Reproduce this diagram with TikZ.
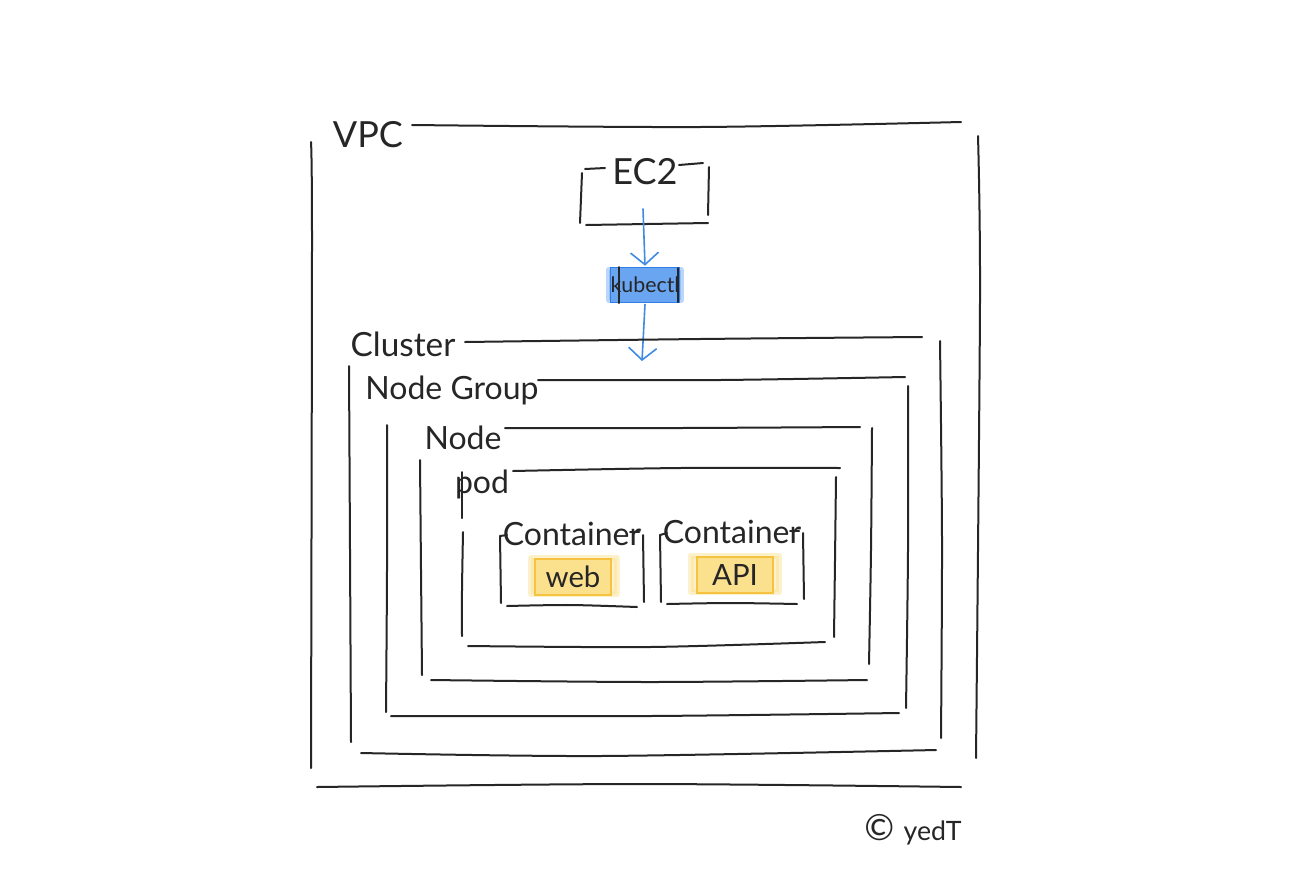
\documentclass[tikz,border=0pt]{standalone}
\usepackage{fontspec}
\setmainfont{Lato}
\usetikzlibrary{arrows.meta}
\definecolor{inkc}{HTML}{262626}
\definecolor{bluearrow}{HTML}{3F8BE3}
\definecolor{bluefill}{HTML}{6AA5F2}
\definecolor{bluerim}{HTML}{2F7FE6}
\definecolor{yelfill}{HTML}{FBE08E}
\definecolor{yelrim}{HTML}{F5C33F}
\tikzset{
  x=0.75pt,y=-0.75pt,
  ink/.style={draw=inkc,line width=1.5pt,line cap=round,line join=round},
  flow/.style={draw=bluearrow,line width=1.2pt,line cap=round,-{Straight Barb[length=9pt,width=21pt,line width=1.2pt]}},
  lab/.style={inner sep=0pt,text=inkc,font=\fontsize{#1}{#1}\selectfont},
  lab/.default=26pt,
  boxglow/.style={fill=#1,draw=#1,line width=5pt,opacity=.45,line join=round},
}
\newcommand{\hand}[1]{\draw[ink] plot[smooth] coordinates {#1};}
\begin{document}
\begin{tikzpicture}
\useasboundingbox[fill=white] (0,0) rectangle (1313,893);
% VPC
\hand{(412,125) (700,127) (961,122)}
\hand{(978,136) (980,300) (976,758)}
\hand{(317,787) (640,784) (961,787)}
\hand{(311,142) (312,240) (311,768)}
\node[lab=27pt] (vpc) at (368,135) {VPC};
% EC2
\hand{(585,169) (605,168)}
\hand{(679,165) (703,163)}
\hand{(582,173) (580,223)}
\hand{(709,167) (708,215)}
\hand{(586,225) (708,223)}
\node[lab=27pt] (ec2) at (645,172) {EC2};
\coordinate (ec2out) at (643,209);
% kubectl
\path[boxglow=bluefill] (609,270) rectangle (681,300);
\node[draw=bluerim,fill=bluefill,line width=1pt,minimum width=51pt,minimum height=26pt,inner sep=0pt,outer sep=1.5pt,text=inkc,font=\fontsize{16pt}{16pt}\selectfont] (kubectl) at (645,285) {kubectl};
\hand{(619,267) (619,303)}
\hand{(678,268) (678,302)}
\coordinate (clusterin) at (642,361);
\draw[flow] (ec2out) -- (kubectl.north);
\draw[flow] (kubectl.south) -- (clusterin);
% Cluster
\hand{(465,342) (700,339) (922,337)}
\hand{(940,341) (942,540) (941,738)}
\hand{(361,753) (600,756) (936,750)}
\hand{(349,366) (350,550) (351,742)}
\node[lab=25pt] (cluster) at (403,344) {Cluster};
% Node Group
\hand{(538,380) (720,380) (905,377)}
\hand{(908,386) (908,550) (906,708)}
\hand{(391,716) (650,716) (899,713)}
\hand{(387,425) (387,570) (386,712)}
\node[lab=24pt] (nodegroup) at (452,390) {Node Group};
% Node
\hand{(505,428) (680,428) (860,427)}
\hand{(872,428) (871,550) (869,664)}
\hand{(431,680) (650,682) (867,680)}
\hand{(420,460) (421,570) (422,675)}
\node[lab=24pt] (nodelab) at (463,438) {Node};
% pod
\hand{(513,471) (680,468) (840,468)}
\hand{(836,477) (835,560) (834,637)}
\hand{(468,646) (650,647) (825,642)}
\hand{(463,532) (462,590) (462,636)}
\node[lab=24pt] (pod) at (482,484) {pod};
\hand{(462,472) (462,518)}
% Container web
\hand{(500,536) (507,535)}
\hand{(500,536) (501,603)}
\hand{(630,532) (639,532)}
\hand{(643,535) (644,602)}
\hand{(507,606) (570,605) (637,607)}
\node[lab=24pt] (contweb) at (572,534) {Container};
\path[boxglow=yelfill] (531,558) rectangle (617,594);
\node[draw=yelrim,fill=yelfill,line width=1pt,minimum width=57pt,minimum height=27pt,inner sep=0pt,text=inkc,font=\fontsize{22pt}{22pt}\selectfont] (web) at (573,577) {web};
% Container API
\hand{(660,535) (667,533)}
\hand{(660,535) (661,602)}
\hand{(790,531) (799,531)}
\hand{(803,533) (804,599)}
\hand{(667,604) (730,603) (797,604)}
\node[lab=24pt] (contapi) at (732,532) {Container};
\path[boxglow=yelfill] (691,556) rectangle (779,592);
\node[draw=yelrim,fill=yelfill,line width=1pt,minimum width=57pt,minimum height=27pt,inner sep=0pt,text=inkc,font=\fontsize{22pt}{22pt}\selectfont] (api) at (735,575) {API};
% credit
\node[lab=20pt] (credit) at (913,830) {\fontsize{27pt}{27pt}\selectfont © \fontsize{20pt}{20pt}\selectfont yedT};
\end{tikzpicture}
\end{document}
